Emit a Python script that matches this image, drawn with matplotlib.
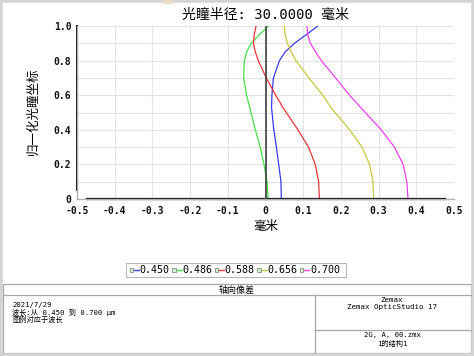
import matplotlib
matplotlib.use("Agg")
import matplotlib.pyplot as plt
from matplotlib.patches import Rectangle
from matplotlib.lines import Line2D

# datos
pupil = [0, 0.1, 0.2, 0.3, 0.4, 0.53, 0.6, 0.7, 0.8, 0.85, 0.9, 0.95, 1.0]
wavelengths = ["0.450", "0.486", "0.588", "0.656", "0.700"]
colors = ["#3a3af0", "#44e044", "#e83535", "#c8c83a", "#f040f0"]
focus_450 = [0.042, 0.041, 0.035, 0.029, 0.022, 0.016, 0.017, 0.021, 0.037, 0.052, 0.077, 0.108, 0.139]
focus_486 = [0.007, 0.004, -0.004, -0.014, -0.027, -0.042, -0.050, -0.058, -0.056, -0.050, -0.038, -0.016, 0.008]
focus_588 = [0.143, 0.141, 0.132, 0.114, 0.086, 0.046, 0.027, 0.002, -0.019, -0.027, -0.032, -0.030, -0.025]
focus_656 = [0.287, 0.285, 0.276, 0.256, 0.223, 0.173, 0.152, 0.115, 0.081, 0.068, 0.058, 0.052, 0.050]
focus_700 = [0.378, 0.375, 0.365, 0.342, 0.307, 0.252, 0.223, 0.186, 0.148, 0.133, 0.119, 0.112, 0.110]
series = [focus_450, focus_486, focus_588, focus_656, focus_700]

xticks = [-0.5, -0.4, -0.3, -0.2, -0.1, 0, 0.1, 0.2, 0.3, 0.4, 0.5]
xticklabels = ["-0.5", "-0.4", "-0.3", "-0.2", "-0.1", "0", "0.1", "0.2", "0.3", "0.4", "0.5"]
yticks = [0, 0.2, 0.4, 0.6, 0.8, 1.0]
yticklabels = ["0", "0.2", "0.4", "0.6", "0.8", "1.0"]

mono = ["DejaVu Sans Mono", "Noto Sans CJK SC"]
cjk = ["Noto Sans CJK SC", "DejaVu Sans"]

W, H = 474, 356
fig = plt.figure(figsize=(W / 100, H / 100), dpi=100)


def fx(px):
    return px / W


def fy(py):
    return 1 - py / H


ax = fig.add_axes([fx(77), fy(199), 377 / W, 173 / H])
for ys, c in zip(series, colors):
    ax.plot(ys, pupil, color=c, lw=0.9)

ax.set_xlim(-0.5, 0.5)
ax.set_ylim(0, 1.0)
ax.set_xticks(xticks)
ax.set_xticklabels(xticklabels, family=mono, fontsize=7, color="#111111", weight="bold")
ax.set_yticks(yticks)
ax.set_yticklabels(yticklabels, family=mono, fontsize=7, color="#111111", weight="bold")
ax.set_xticks([i / 10 for i in range(-5, 6)], minor=True)
ax.set_yticks([i / 10 for i in range(11)], minor=True)
ax.tick_params(which="both", length=0)
ax.tick_params(axis="x", pad=5)
ax.tick_params(axis="y", pad=4)
ax.grid(True, which="both", color="#e4e4e4", lw=0.8)
ax.set_axisbelow(True)
for s in ["top", "right"]:
    ax.spines[s].set_visible(False)
for s in ["left", "bottom"]:
    ax.spines[s].set_color("#b0b0b0")
    ax.spines[s].set_linewidth(1.0)
ax.axhline(0, xmin=0.027, xmax=0.975, color="black", lw=1.6, clip_on=False)
ax.axvline(-0.5, ymin=0.05, ymax=1.0, color="black", lw=1.4, clip_on=False)
ax.axvline(0, color="#404040", lw=1.2)

fig.text(fx(265.5), fy(15), "光瞳半径: 30.0000 毫米", ha="center", va="center",
         family=mono, fontsize=10)
fig.text(fx(265.5), fy(227), "毫米", ha="center", va="center", family=cjk, fontsize=9)
fig.text(fx(33), fy(111.5), "归一化光瞳坐标", ha="center", va="center", rotation=90,
         family=cjk, fontsize=9)

# leyenda manual
fig.patches.append(Rectangle((fx(126), fy(276.5)), fx(220.5), 14 / H, transform=fig.transFigure,
                             fill=False, edgecolor="#b8b8b8", lw=0.8))
for i, (lab, c) in enumerate(zip(wavelengths, colors)):
    x0 = 129.5 + i * 42.6
    fig.patches.append(Rectangle((fx(x0), fy(271.5)), 3.5 / W, 3.5 / H, transform=fig.transFigure,
                                 facecolor="#d8ecd8", edgecolor="#608060", lw=0.5))
    fig.lines.append(Line2D([fx(x0 + 4.5), fx(x0 + 9.5)], [fy(269.7), fy(269.7)],
                            transform=fig.transFigure, color=c, lw=1.0))
    fig.text(fx(x0 + 10), fy(269.7), lab, ha="left", va="center", family=mono, fontsize=7.2)

# tabla inferior
gray = "#a8a8a8"
fig.patches.append(Rectangle((fx(3), fy(353)), fx(468), 69 / H, transform=fig.transFigure,
                             fill=False, edgecolor=gray, lw=0.9))
for (x1, y1, x2, y2) in [(3, 294.5, 471, 294.5), (315, 294.5, 315, 353), (315, 330, 471, 330)]:
    fig.lines.append(Line2D([fx(x1), fx(x2)], [fy(y1), fy(y2)], transform=fig.transFigure,
                            color=gray, lw=0.9))
fig.text(fx(237), fy(290), "轴向像差", ha="center", va="center", family=cjk, fontsize=6.5)
fig.text(fx(12), fy(305.5), "2021/7/29", ha="left", va="center", family=mono, fontsize=5.2)
fig.text(fx(12), fy(312.5), "波长:从 0.450 到 0.700 µm", ha="left", va="center", family=mono, fontsize=5.2)
fig.text(fx(12), fy(319.5), "图例对应于波长", ha="left", va="center", family=cjk, fontsize=5.2)
fig.text(fx(392), fy(299.5), "Zemax", ha="center", va="center", family=mono, fontsize=5.4)
fig.text(fx(392), fy(307.5), "Zemax OpticStudio 17", ha="center", va="center", family=mono, fontsize=5.4)
fig.text(fx(392), fy(335.5), "2G, A, 00.zmx", ha="center", va="center", family=mono, fontsize=5.2)
fig.text(fx(392), fy(343), "1的结构1", ha="center", va="center", family=mono, fontsize=5.2)

# marco gris exterior
fig.patches.append(Rectangle((0, 0), 1, 1, transform=fig.transFigure, fill=False,
                             edgecolor="#d4d4d4", lw=4))
fig.patches.append(Rectangle((fx(163), fy(4)), 10 / W, 4 / H, transform=fig.transFigure,
                             facecolor="#eadfc4", edgecolor="none"))

fig.savefig("out.png", dpi=100)
